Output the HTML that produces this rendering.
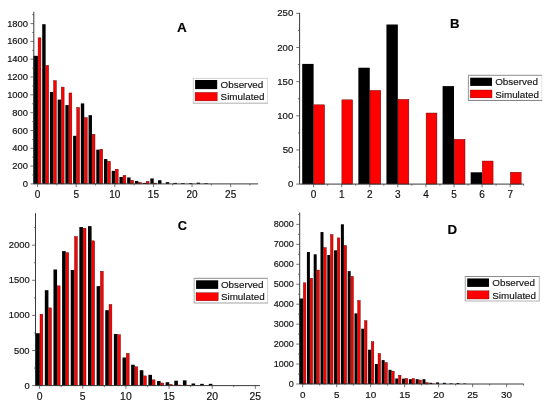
<!DOCTYPE html>
<html lang="en">
<head>
<meta charset="utf-8">
<title>Observed vs Simulated histograms</title>
<style>
html,body{margin:0;padding:0;background:#fff;}
body{width:550px;height:407px;overflow:hidden;font-family:"Liberation Sans", Arial, Helvetica, sans-serif;}
svg{display:block;}
</style>
</head>
<body>
<svg width="550" height="407" viewBox="0 0 550 407">
<rect x="0" y="0" width="550" height="407" fill="#ffffff"/>
<g id="panelA">
<g fill="#000000">
<rect x="33.35" y="55.82" width="4.55" height="128.08"/>
<rect x="42.22" y="24.22" width="3.4" height="159.68"/>
<rect x="49.94" y="91.96" width="3.4" height="91.94"/>
<rect x="57.67" y="99.59" width="3.4" height="84.31"/>
<rect x="65.39" y="105.1" width="3.4" height="78.8"/>
<rect x="73.11" y="135.81" width="3.4" height="48.09"/>
<rect x="80.83" y="103.41" width="3.4" height="80.49"/>
<rect x="88.55" y="115.13" width="3.4" height="68.77"/>
<rect x="96.28" y="149.66" width="3.4" height="34.24"/>
<rect x="104" y="159.07" width="3.4" height="24.83"/>
<rect x="111.72" y="170.88" width="3.4" height="13.02"/>
<rect x="119.44" y="177.01" width="3.4" height="6.89"/>
<rect x="127.16" y="177.45" width="3.4" height="6.45"/>
<rect x="134.89" y="181" width="3.4" height="2.9"/>
<rect x="142.61" y="182.87" width="3.4" height="1.03"/>
<rect x="150.33" y="178.43" width="3.4" height="5.47"/>
<rect x="158.05" y="180.2" width="3.4" height="3.7"/>
<rect x="165.77" y="182.16" width="3.4" height="1.74"/>
<rect x="173.5" y="182.87" width="3.4" height="1.03"/>
<rect x="181.22" y="183.13" width="3.4" height="0.77"/>
<rect x="188.94" y="183.13" width="3.4" height="0.77"/>
<rect x="196.66" y="182.69" width="3.4" height="1.21"/>
<rect x="204.38" y="183.22" width="3.4" height="0.68"/>
</g>
<g fill="#ff0000" stroke="#480000" stroke-width="0.4">
<rect x="38.1" y="37.82" width="2.85" height="146.08"/>
<rect x="45.82" y="65.35" width="2.85" height="118.55"/>
<rect x="53.54" y="80.62" width="2.85" height="103.28"/>
<rect x="61.27" y="87.1" width="2.85" height="96.8"/>
<rect x="68.99" y="92.96" width="2.85" height="90.94"/>
<rect x="76.71" y="107.43" width="2.85" height="76.47"/>
<rect x="84.43" y="117.64" width="2.85" height="66.26"/>
<rect x="92.15" y="134.24" width="2.85" height="49.66"/>
<rect x="99.88" y="149.24" width="2.85" height="34.66"/>
<rect x="107.6" y="161.32" width="2.85" height="22.58"/>
<rect x="115.32" y="169.22" width="2.85" height="14.68"/>
<rect x="123.04" y="175.34" width="2.85" height="8.56"/>
<rect x="130.76" y="180.23" width="2.85" height="3.67"/>
<rect x="138.49" y="182.36" width="2.85" height="1.54"/>
<rect x="146.21" y="181.38" width="2.85" height="2.52"/>
<rect x="153.93" y="183.07" width="2.85" height="0.83"/>
</g>
<g stroke="#303030" stroke-width="0.95" fill="none">
<path d="M33.8 11.7V183.9H258.1"/>
<path d="M33.8 183.9h-3.4M33.8 166.09h-3.4M33.8 148.28h-3.4M33.8 130.47h-3.4M33.8 112.66h-3.4M33.8 94.84h-3.4M33.8 77.03h-3.4M33.8 59.22h-3.4M33.8 41.41h-3.4M33.8 23.6h-3.4M33.8 174.99h-1.6M33.8 157.18h-1.6M33.8 139.37h-1.6M33.8 121.56h-1.6M33.8 103.75h-1.6M33.8 85.94h-1.6M33.8 68.13h-1.6M33.8 50.32h-1.6M33.8 32.51h-1.6M33.8 14.69h-1.6M37.6 183.9v3.2M76.21 183.9v3.2M114.82 183.9v3.2M153.43 183.9v3.2M192.04 183.9v3.2M230.65 183.9v3.2M56.91 183.9v1.6M95.52 183.9v1.6M134.12 183.9v1.6M172.74 183.9v1.6M211.34 183.9v1.6M249.96 183.9v1.6" stroke-width="0.7" stroke="#3c3c3c"/>
</g>
<g font-family='"Liberation Sans", Arial, Helvetica, sans-serif' font-size="9.4" fill="#111" stroke="#111" stroke-width="0.18" text-anchor="end">
<text x="28" y="186.97">0</text>
<text x="28" y="169.15">200</text>
<text x="28" y="151.34">400</text>
<text x="28" y="133.53">600</text>
<text x="28" y="115.72">800</text>
<text x="28" y="97.91">1000</text>
<text x="28" y="80.1">1200</text>
<text x="28" y="62.29">1400</text>
<text x="28" y="44.48">1600</text>
<text x="28" y="26.67">1800</text>
</g>
<g font-family='"Liberation Sans", Arial, Helvetica, sans-serif' font-size="10.0" fill="#111" stroke="#111" stroke-width="0.18" text-anchor="middle">
<text x="37.6" y="198.1">0</text>
<text x="76.21" y="198.1">5</text>
<text x="114.82" y="198.1">10</text>
<text x="153.43" y="198.1">15</text>
<text x="192.04" y="198.1">20</text>
<text x="230.65" y="198.1">25</text>
</g>
<text x="177" y="32.1" font-family='"Liberation Sans", Arial, Helvetica, sans-serif' font-size="13.5" font-weight="bold" fill="#000" stroke="#000" stroke-width="0.15">A</text>
<rect x="193.3" y="78.4" width="74.1" height="24.8" fill="#fff"/>
<g stroke-width="0.9" fill="none">
<path d="M192.9 78.4H267.8" stroke="#cdcdcd"/>
<path d="M193.3 78.4V103.2" stroke="#cdcdcd"/>
<path d="M267.4 78.4V103.2" stroke="#d6d6d6"/>
<path d="M192.9 103.2H267.8" stroke="#a6a6a6"/>
</g>
<rect x="195.1" y="80" width="22.1" height="9.1" fill="#000"/>
<rect x="195.1" y="92.4" width="22.1" height="8.5" fill="#ff0000" stroke="#5a0000" stroke-width="0.35"/>
<g font-family='"Liberation Sans", Arial, Helvetica, sans-serif' font-size="9.85" fill="#111" stroke="#111" stroke-width="0.15">
<text x="220.6" y="88.1">Observed</text>
<text x="220.6" y="100.4">Simulated</text>
</g>
</g>
<g id="panelB">
<g fill="#000000">
<rect x="302.2" y="63.91" width="11.4" height="120.19"/>
<rect x="358.36" y="67.73" width="11.4" height="116.37"/>
<rect x="386.44" y="24.5" width="11.4" height="159.6"/>
<rect x="442.6" y="86.1" width="11.4" height="98"/>
<rect x="470.68" y="172.3" width="11.4" height="11.8"/>
</g>
<g fill="#ff0000" stroke="#480000" stroke-width="0.4">
<rect x="313.8" y="104.81" width="10.8" height="79.29"/>
<rect x="341.88" y="99.83" width="10.8" height="84.27"/>
<rect x="369.96" y="90.4" width="10.8" height="93.7"/>
<rect x="398.04" y="99.35" width="10.8" height="84.75"/>
<rect x="426.12" y="113.01" width="10.8" height="71.09"/>
<rect x="454.2" y="139.3" width="10.8" height="44.8"/>
<rect x="482.28" y="161.02" width="10.8" height="23.08"/>
<rect x="510.36" y="172.23" width="10.8" height="11.87"/>
</g>
<g stroke="#303030" stroke-width="0.95" fill="none">
<path d="M299.6 12.9V184.1H523.8"/>
<path d="M299.6 184.1h-3.4M299.6 149.95h-3.4M299.6 115.8h-3.4M299.6 81.65h-3.4M299.6 47.5h-3.4M299.6 13.35h-3.4M299.6 167.02h-1.6M299.6 132.88h-1.6M299.6 98.72h-1.6M299.6 64.57h-1.6M299.6 30.42h-1.6M313.6 184.1v3.2M341.68 184.1v3.2M369.76 184.1v3.2M397.84 184.1v3.2M425.92 184.1v3.2M454 184.1v3.2M482.08 184.1v3.2M510.16 184.1v3.2M327.64 184.1v1.6M355.72 184.1v1.6M383.8 184.1v1.6M411.88 184.1v1.6M439.96 184.1v1.6M468.04 184.1v1.6M496.12 184.1v1.6M523.64 184.1v1.6" stroke-width="0.7" stroke="#3c3c3c"/>
</g>
<g font-family='"Liberation Sans", Arial, Helvetica, sans-serif' font-size="9.6" fill="#111" stroke="#111" stroke-width="0.18" text-anchor="end">
<text x="293.3" y="187.24">0</text>
<text x="293.3" y="153.09">50</text>
<text x="293.3" y="118.94">100</text>
<text x="293.3" y="84.79">150</text>
<text x="293.3" y="50.64">200</text>
<text x="293.3" y="16.49">250</text>
</g>
<g font-family='"Liberation Sans", Arial, Helvetica, sans-serif' font-size="10.0" fill="#111" stroke="#111" stroke-width="0.18" text-anchor="middle">
<text x="313.6" y="198.3">0</text>
<text x="341.68" y="198.3">1</text>
<text x="369.76" y="198.3">2</text>
<text x="397.84" y="198.3">3</text>
<text x="425.92" y="198.3">4</text>
<text x="454" y="198.3">5</text>
<text x="482.08" y="198.3">6</text>
<text x="510.16" y="198.3">7</text>
</g>
<text x="450.1" y="27.5" font-family='"Liberation Sans", Arial, Helvetica, sans-serif' font-size="13.2" font-weight="bold" fill="#000" stroke="#000" stroke-width="0.15">B</text>
<rect x="468.4" y="75.3" width="73.4" height="25.15" fill="#fff"/>
<g stroke-width="0.9" fill="none">
<path d="M468 75.3H542.2" stroke="#808080"/>
<path d="M468.4 75.3V100.45" stroke="#8a8a8a"/>
<path d="M541.8 75.3V100.45" stroke="#e2e2e2"/>
<path d="M468 100.45H542.2" stroke="#707070"/>
</g>
<rect x="470.2" y="77.7" width="21.8" height="8.2" fill="#000"/>
<rect x="470.2" y="90" width="21.8" height="7.9" fill="#ff0000" stroke="#5a0000" stroke-width="0.35"/>
<g font-family='"Liberation Sans", Arial, Helvetica, sans-serif' font-size="9.85" fill="#111" stroke="#111" stroke-width="0.15">
<text x="495.2" y="85.4">Observed</text>
<text x="495.2" y="97.7">Simulated</text>
</g>
</g>
<g id="panelC">
<g fill="#000000">
<rect x="35.05" y="333.22" width="4.75" height="52.38"/>
<rect x="44.83" y="290.19" width="3.6" height="95.41"/>
<rect x="53.46" y="269.48" width="3.6" height="116.12"/>
<rect x="62.09" y="251.09" width="3.6" height="134.51"/>
<rect x="70.72" y="269.97" width="3.6" height="115.63"/>
<rect x="79.35" y="227.08" width="3.6" height="158.52"/>
<rect x="87.98" y="226.1" width="3.6" height="159.5"/>
<rect x="96.61" y="286.12" width="3.6" height="99.48"/>
<rect x="105.24" y="310.2" width="3.6" height="75.4"/>
<rect x="113.87" y="333.99" width="3.6" height="51.61"/>
<rect x="122.5" y="357.51" width="3.6" height="28.09"/>
<rect x="131.13" y="364.74" width="3.6" height="20.86"/>
<rect x="139.76" y="370.22" width="3.6" height="15.38"/>
<rect x="148.39" y="374.85" width="3.6" height="10.75"/>
<rect x="157.02" y="381.03" width="3.6" height="4.57"/>
<rect x="165.65" y="382.22" width="3.6" height="3.38"/>
<rect x="174.28" y="380.68" width="3.6" height="4.92"/>
<rect x="182.91" y="380.33" width="3.6" height="5.27"/>
<rect x="191.54" y="383.49" width="3.6" height="2.11"/>
<rect x="200.17" y="383.84" width="3.6" height="1.76"/>
<rect x="208.8" y="383.84" width="3.6" height="1.76"/>
</g>
<g fill="#ff0000" stroke="#480000" stroke-width="0.4">
<rect x="40" y="314.19" width="2.85" height="71.41"/>
<rect x="48.63" y="307.87" width="2.85" height="77.73"/>
<rect x="57.26" y="285.83" width="2.85" height="99.77"/>
<rect x="65.89" y="252.62" width="2.85" height="132.98"/>
<rect x="74.52" y="236.48" width="2.85" height="149.12"/>
<rect x="83.15" y="228.19" width="2.85" height="157.41"/>
<rect x="91.78" y="240.83" width="2.85" height="144.77"/>
<rect x="100.41" y="271.23" width="2.85" height="114.37"/>
<rect x="109.04" y="304.5" width="2.85" height="81.1"/>
<rect x="117.67" y="334.69" width="2.85" height="50.91"/>
<rect x="126.3" y="353.36" width="2.85" height="32.24"/>
<rect x="134.93" y="366.77" width="2.85" height="18.83"/>
<rect x="143.56" y="375.89" width="2.85" height="9.71"/>
<rect x="152.19" y="379.82" width="2.85" height="5.78"/>
<rect x="160.82" y="382.98" width="2.85" height="2.62"/>
<rect x="169.45" y="384.32" width="2.85" height="1.28"/>
<rect x="177.88" y="384.75" width="3.25" height="0.85" stroke="none"/>
<rect x="186.51" y="384.89" width="3.25" height="0.71" stroke="none"/>
</g>
<g stroke="#303030" stroke-width="0.95" fill="none">
<path d="M35.5 213.2V385.6H259.9"/>
<path d="M35.5 385.6h-3.4M35.5 350.5h-3.4M35.5 315.4h-3.4M35.5 280.3h-3.4M35.5 245.2h-3.4M35.5 368.05h-1.6M35.5 332.95h-1.6M35.5 297.85h-1.6M35.5 262.75h-1.6M35.5 227.65h-1.6M39.6 385.6v3.2M82.75 385.6v3.2M125.9 385.6v3.2M169.05 385.6v3.2M212.2 385.6v3.2M255.35 385.6v3.2M61.18 385.6v1.6M104.33 385.6v1.6M147.48 385.6v1.6M190.62 385.6v1.6M233.78 385.6v1.6" stroke-width="0.7" stroke="#3c3c3c"/>
</g>
<g font-family='"Liberation Sans", Arial, Helvetica, sans-serif' font-size="9.4" fill="#111" stroke="#111" stroke-width="0.18" text-anchor="end">
<text x="29.6" y="388.67">0</text>
<text x="29.6" y="353.57">500</text>
<text x="29.6" y="318.47">1000</text>
<text x="29.6" y="283.37">1500</text>
<text x="29.6" y="248.27">2000</text>
</g>
<g font-family='"Liberation Sans", Arial, Helvetica, sans-serif' font-size="10.4" fill="#111" stroke="#111" stroke-width="0.18" text-anchor="middle">
<text x="39.6" y="400.2">0</text>
<text x="82.75" y="400.2">5</text>
<text x="125.9" y="400.2">10</text>
<text x="169.05" y="400.2">15</text>
<text x="212.2" y="400.2">20</text>
<text x="255.35" y="400.2">25</text>
</g>
<text x="177.8" y="230.3" font-family='"Liberation Sans", Arial, Helvetica, sans-serif' font-size="12.8" font-weight="bold" fill="#000" stroke="#000" stroke-width="0.15">C</text>
<rect x="194.15" y="278.3" width="73.45" height="24.7" fill="#fff"/>
<g stroke-width="0.9" fill="none">
<path d="M193.75 278.3H268" stroke="#808080"/>
<path d="M194.15 278.3V303" stroke="#aaaaaa"/>
<path d="M267.6 278.3V303" stroke="#cccccc"/>
<path d="M193.75 303H268" stroke="#999999"/>
</g>
<rect x="196.07" y="280.3" width="22.1" height="8.6" fill="#000"/>
<rect x="196.07" y="292.7" width="22.1" height="8.1" fill="#ff0000" stroke="#5a0000" stroke-width="0.35"/>
<g font-family='"Liberation Sans", Arial, Helvetica, sans-serif' font-size="9.85" fill="#111" stroke="#111" stroke-width="0.15">
<text x="220.9" y="288">Observed</text>
<text x="220.9" y="300.3">Simulated</text>
</g>
</g>
<g id="panelD">
<g fill="#000000">
<rect x="299.25" y="298.51" width="3.85" height="85.49"/>
<rect x="306.9" y="252" width="3" height="132"/>
<rect x="313.69" y="254.31" width="3" height="129.69"/>
<rect x="320.49" y="232.06" width="3" height="151.94"/>
<rect x="327.29" y="255.01" width="3" height="128.99"/>
<rect x="334.08" y="250.31" width="3" height="133.69"/>
<rect x="340.88" y="224.3" width="3" height="159.7"/>
<rect x="347.68" y="271.11" width="3" height="112.89"/>
<rect x="354.48" y="313.39" width="3" height="70.61"/>
<rect x="361.27" y="328.7" width="3" height="55.3"/>
<rect x="368.07" y="349.69" width="3" height="34.31"/>
<rect x="374.87" y="364" width="3" height="20"/>
<rect x="381.66" y="360.1" width="3" height="23.9"/>
<rect x="388.46" y="369.81" width="3" height="14.19"/>
<rect x="395.26" y="378.51" width="3" height="5.49"/>
<rect x="402.05" y="378.62" width="3" height="5.38"/>
<rect x="408.85" y="379.2" width="3" height="4.8"/>
<rect x="415.65" y="379.2" width="3" height="4.8"/>
<rect x="422.45" y="379.2" width="3" height="4.8"/>
<rect x="429.24" y="382.8" width="3" height="1.2"/>
<rect x="436.04" y="382.41" width="3" height="1.59"/>
<rect x="442.84" y="382.8" width="3" height="1.2"/>
<rect x="449.63" y="383.4" width="3" height="0.6"/>
<rect x="456.43" y="383.1" width="3" height="0.9"/>
<rect x="463.23" y="383.5" width="3" height="0.5"/>
</g>
<g fill="#ff0000" stroke="#480000" stroke-width="0.4">
<rect x="303.3" y="282.81" width="2.55" height="101.19"/>
<rect x="310.1" y="278.21" width="2.55" height="105.79"/>
<rect x="316.89" y="270.01" width="2.55" height="113.99"/>
<rect x="323.69" y="247.6" width="2.55" height="136.4"/>
<rect x="330.49" y="234.49" width="2.55" height="149.51"/>
<rect x="337.28" y="237.89" width="2.55" height="146.11"/>
<rect x="344.08" y="245.5" width="2.55" height="138.5"/>
<rect x="350.88" y="276.4" width="2.55" height="107.6"/>
<rect x="357.68" y="300.5" width="2.55" height="83.5"/>
<rect x="364.47" y="320.7" width="2.55" height="63.3"/>
<rect x="371.27" y="341.69" width="2.55" height="42.31"/>
<rect x="378.07" y="353.39" width="2.55" height="30.61"/>
<rect x="384.86" y="362.41" width="2.55" height="21.59"/>
<rect x="391.66" y="371.1" width="2.55" height="12.9"/>
<rect x="398.46" y="375.2" width="2.55" height="8.8"/>
<rect x="405.25" y="378.41" width="2.55" height="5.59"/>
<rect x="412.05" y="378.43" width="2.55" height="5.57"/>
<rect x="418.85" y="380.02" width="2.55" height="3.98"/>
<rect x="425.65" y="382.61" width="2.55" height="1.39"/>
<rect x="432.24" y="383.5" width="2.95" height="0.5" stroke="none"/>
</g>
<g stroke="#303030" stroke-width="0.95" fill="none">
<path d="M299.7 212.5V384H523.7"/>
<path d="M299.7 384h-3.4M299.7 364.05h-3.4M299.7 344.1h-3.4M299.7 324.15h-3.4M299.7 304.2h-3.4M299.7 284.25h-3.4M299.7 264.3h-3.4M299.7 244.35h-3.4M299.7 224.4h-3.4M299.7 374.02h-1.6M299.7 354.07h-1.6M299.7 334.12h-1.6M299.7 314.18h-1.6M299.7 294.23h-1.6M299.7 274.27h-1.6M299.7 254.33h-1.6M299.7 234.38h-1.6M299.7 214.43h-1.6M302.7 384v3.2M336.69 384v3.2M370.67 384v3.2M404.65 384v3.2M438.64 384v3.2M472.62 384v3.2M506.61 384v3.2M319.69 384v1.6M353.68 384v1.6M387.66 384v1.6M421.65 384v1.6M455.63 384v1.6M489.62 384v1.6M523.6 384v1.6" stroke-width="0.7" stroke="#3c3c3c"/>
</g>
<g font-family='"Liberation Sans", Arial, Helvetica, sans-serif' font-size="9.0" fill="#111" stroke="#111" stroke-width="0.18" text-anchor="end">
<text x="293.7" y="386.92">0</text>
<text x="293.7" y="366.97">1000</text>
<text x="293.7" y="347.02">2000</text>
<text x="293.7" y="327.07">3000</text>
<text x="293.7" y="307.12">4000</text>
<text x="293.7" y="287.17">5000</text>
<text x="293.7" y="267.22">6000</text>
<text x="293.7" y="247.27">7000</text>
<text x="293.7" y="227.32">8000</text>
</g>
<g font-family='"Liberation Sans", Arial, Helvetica, sans-serif' font-size="9.9" fill="#111" stroke="#111" stroke-width="0.18" text-anchor="middle">
<text x="302.7" y="398.4">0</text>
<text x="336.69" y="398.4">5</text>
<text x="370.67" y="398.4">10</text>
<text x="404.65" y="398.4">15</text>
<text x="438.64" y="398.4">20</text>
<text x="472.62" y="398.4">25</text>
<text x="506.61" y="398.4">30</text>
</g>
<text x="447.4" y="234.1" font-family='"Liberation Sans", Arial, Helvetica, sans-serif' font-size="13.3" font-weight="bold" fill="#000" stroke="#000" stroke-width="0.15">D</text>
<rect x="465.26" y="276.5" width="74.04" height="24.5" fill="#fff"/>
<g stroke-width="0.9" fill="none">
<path d="M464.86 276.5H539.7" stroke="#808080"/>
<path d="M465.26 276.5V301" stroke="#999999"/>
<path d="M539.3 276.5V301" stroke="#aaaaaa"/>
<path d="M464.86 301H539.7" stroke="#aaaaaa"/>
</g>
<rect x="467.2" y="278.45" width="21.8" height="8.45" fill="#000"/>
<rect x="467.2" y="290.8" width="21.8" height="8.2" fill="#ff0000" stroke="#5a0000" stroke-width="0.35"/>
<g font-family='"Liberation Sans", Arial, Helvetica, sans-serif' font-size="9.85" fill="#111" stroke="#111" stroke-width="0.15">
<text x="492.3" y="286.2">Observed</text>
<text x="492.3" y="298.5">Simulated</text>
</g>
</g>
</svg>
</body>
</html>
